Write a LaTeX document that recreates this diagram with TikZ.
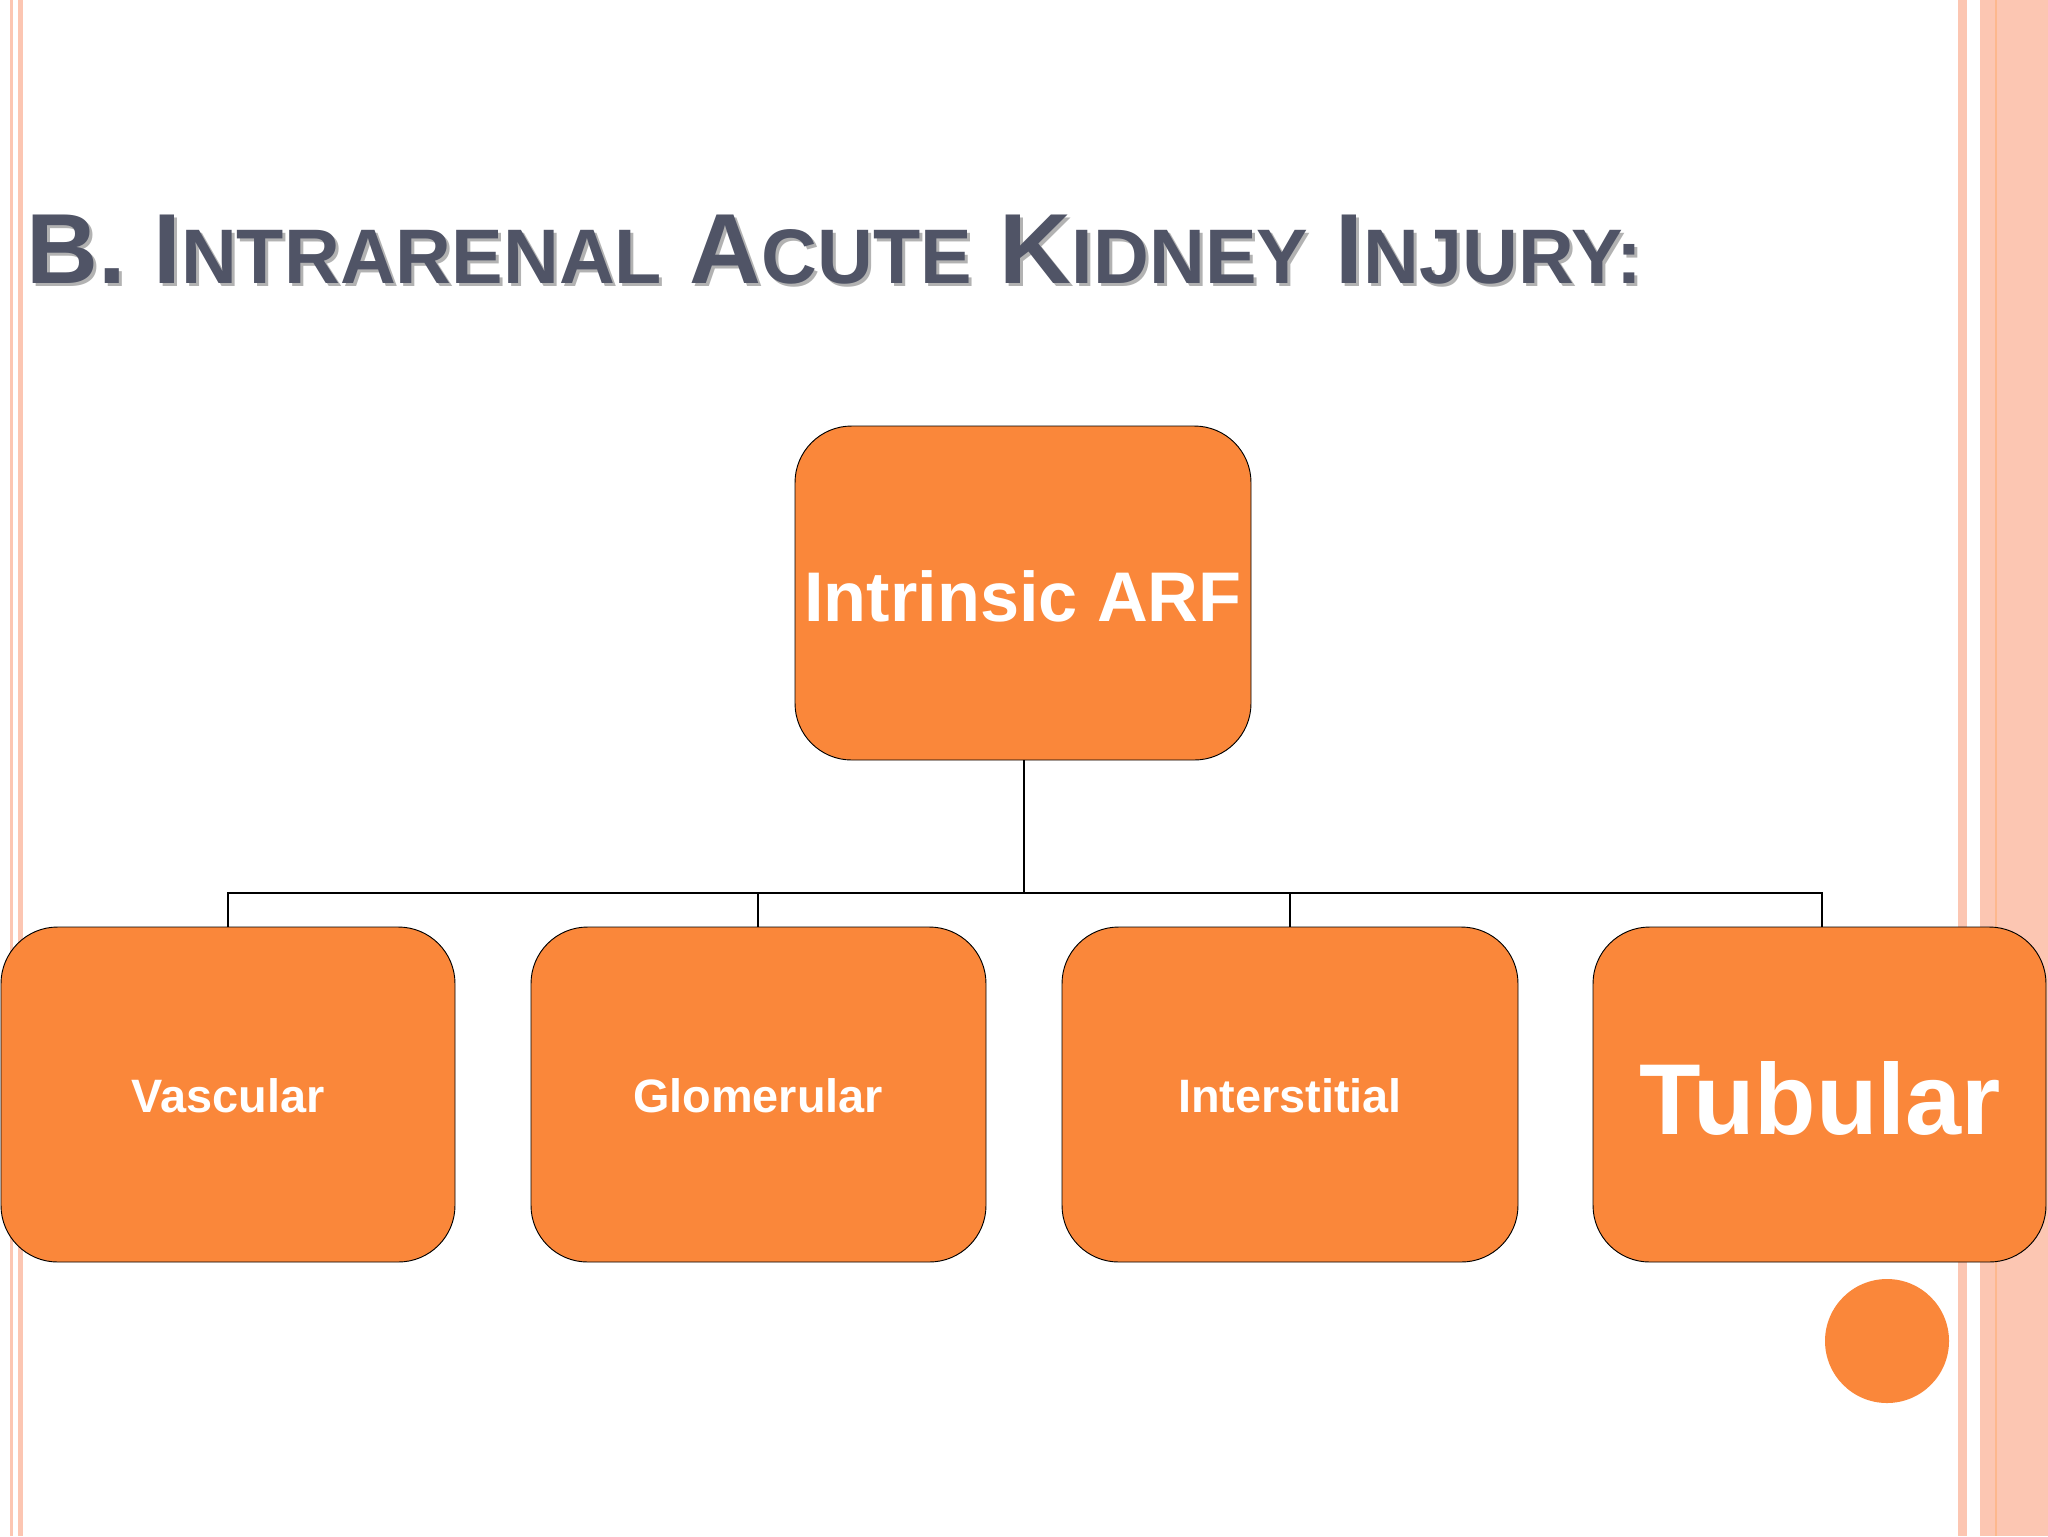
\documentclass[tikz,border=0pt]{standalone}
\usepackage{fontspec}
\setmainfont{Liberation Sans}
\definecolor{boxor}{HTML}{FA873A}
\definecolor{pale}{HTML}{FCC6B2}
\definecolor{ttl}{HTML}{505466}
\newcommand\tbig{\fontsize{85}{90}\selectfont}
\newcommand\tsml{\fontsize{66}{70}\selectfont}
\newcommand\ttext{\bfseries\tbig B. I{\tsml NTRARENAL} A{\tsml CUTE} K{\tsml IDNEY} I{\tsml NJURY:}}
\begin{document}
\begin{tikzpicture}[x=0.3mm,y=-0.3mm,
  cbox/.style={draw=black,line width=0.8pt,fill=boxor,rounded corners=17mm,text=white,font=\bfseries},
  link/.style={line width=2.2pt}]
\useasboundingbox (0,0) rectangle (2048,1536);
\fill[white] (0,0) rectangle (2048,1536);
% borders
\fill[pale] (10,0) rectangle (13,1536);
\fill[pale] (18,0) rectangle (23,1536);
\fill[pale] (1958,0) rectangle (1967,1536);
\fill[pale] (1980,0) rectangle (2048,1536);
\fill[pale!80!orange] (1995,0) rectangle (1997,1536);
% title
\node[anchor=base west,text=black!30,inner sep=0] at (29,286) {\ttext};
\node[anchor=base west,text=ttl,inner sep=0] (title) at (26,283) {\ttext};
% boxes
\node[cbox,minimum width=455\pgflinewidth,inner sep=0] (top) at (1023,593) {};
\path[cbox] (795,426) rectangle (1251,760);
\node[text=white,font=\bfseries\fontsize{60}{64}\selectfont] (topt) at (1023,596) {Intrinsic ARF};
\path[cbox] (1,927) rectangle (455,1262);
\path[cbox] (531,927) rectangle (986,1262);
\path[cbox] (1062,927) rectangle (1518,1262);
\path[cbox] (1593,927) rectangle (2046,1262);
\node[text=white,font=\bfseries\fontsize{40}{44}\selectfont] (v) at (228,1096) {Vascular};
\node[text=white,font=\bfseries\fontsize{40}{44}\selectfont] (g) at (758,1096) {Glomerular};
\node[text=white,font=\bfseries\fontsize{40}{44}\selectfont] (i) at (1290,1096) {Interstitial};
\node[text=white,font=\bfseries\fontsize{86}{90}\selectfont] (t) at (1820,1098) {Tubular};
\coordinate (tb) at (1024,760);
\coordinate (bar) at (1024,893);
\draw[link] (tb) -- (bar);
\draw[link] (228,927) -- (228,893) -- (1822,893) -- (1822,927);
\draw[link] (758,893) -- (758,927);
\draw[link] (1290,893) -- (1290,927);
\fill[boxor] (1887,1341) circle (62);
\end{tikzpicture}
\end{document}
